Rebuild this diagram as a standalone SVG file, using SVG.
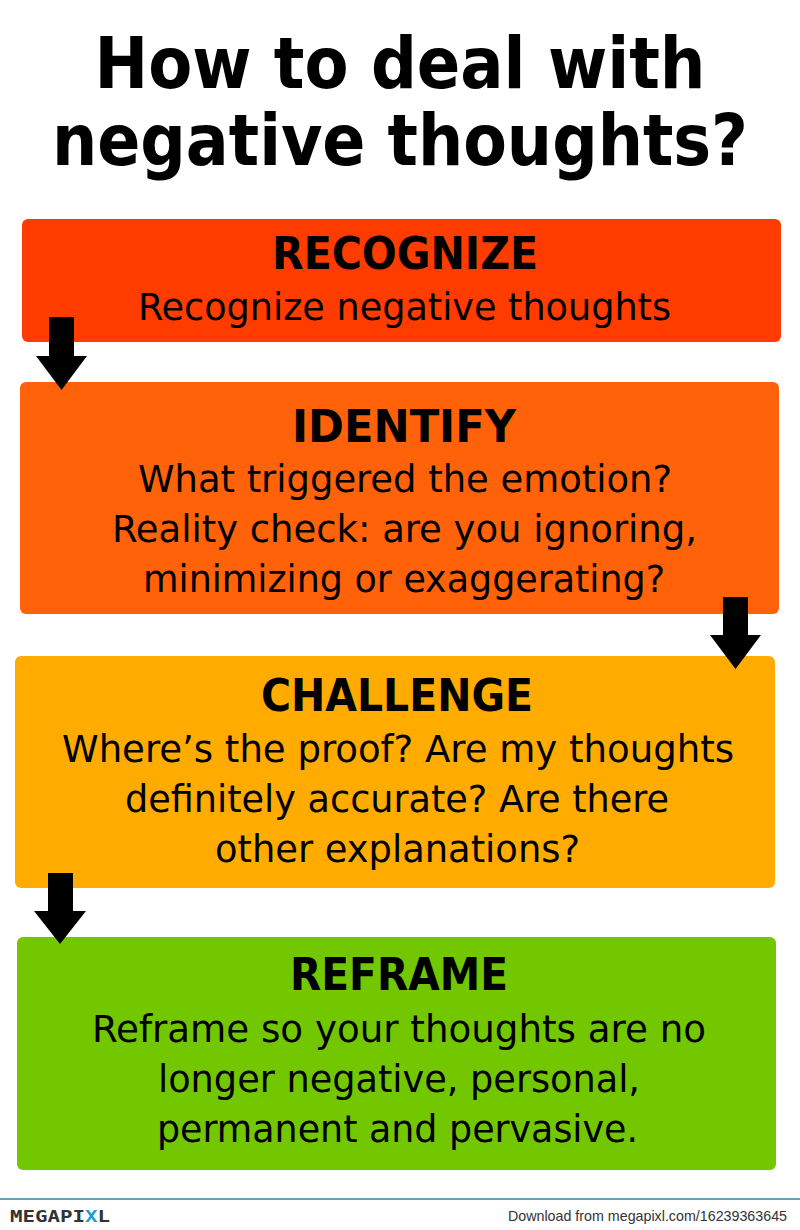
<svg xmlns="http://www.w3.org/2000/svg" width="800" height="1230" viewBox="0 0 800 1230">
<style>
.t{font-family:"DejaVu Sans Condensed","DejaVu Sans",sans-serif;fill:#000;text-anchor:middle}
.title{font-weight:bold;font-size:72px}
.h{font-weight:bold;font-size:44px}
.b{font-size:37px}
.arrow{fill:#000}
</style>
<rect width="800" height="1230" fill="#fff"/>
<g id="title">
<text class="t title" x="400" y="88" textLength="611" lengthAdjust="spacingAndGlyphs">How to deal with</text>
<text class="t title" x="400" y="165" textLength="696" lengthAdjust="spacingAndGlyphs">negative thoughts?</text>
</g>
<g id="recognize">
<rect x="22" y="219" width="759" height="123" rx="6" fill="#ff3c00"/>
<text class="t h" x="405" y="269" textLength="266" lengthAdjust="spacingAndGlyphs">RECOGNIZE</text>
<text class="t b" x="404.5" y="320" textLength="533" lengthAdjust="spacingAndGlyphs">Recognize negative thoughts</text>
</g>
<g id="identify">
<rect x="20" y="382" width="759" height="232" rx="6" fill="#ff6208"/>
<text class="t h" x="404" y="442" textLength="224" lengthAdjust="spacingAndGlyphs">IDENTIFY</text>
<text class="t b" x="405" y="492" textLength="534" lengthAdjust="spacingAndGlyphs">What triggered the emotion?</text>
<text class="t b" x="404.5" y="542" textLength="585" lengthAdjust="spacingAndGlyphs">Reality check: are you ignoring,</text>
<text class="t b" x="404" y="592" textLength="522" lengthAdjust="spacingAndGlyphs">minimizing or exaggerating?</text>
</g>
<g id="challenge">
<rect x="15" y="656" width="760" height="232" rx="6" fill="#ffab00"/>
<text class="t h" x="397" y="711" textLength="272" lengthAdjust="spacingAndGlyphs">CHALLENGE</text>
<text class="t b" x="398" y="762" textLength="672" lengthAdjust="spacingAndGlyphs">Where’s the proof? Are my thoughts</text>
<text class="t b" x="397" y="812" textLength="544" lengthAdjust="spacingAndGlyphs">definitely accurate? Are there</text>
<text class="t b" x="397.5" y="862" textLength="365" lengthAdjust="spacingAndGlyphs">other explanations?</text>
</g>
<g id="reframe">
<rect x="17" y="937" width="759" height="233" rx="6" fill="#72c700"/>
<text class="t h" x="399" y="990" textLength="218" lengthAdjust="spacingAndGlyphs">REFRAME</text>
<text class="t b" x="399" y="1042" textLength="614" lengthAdjust="spacingAndGlyphs">Reframe so your thoughts are no</text>
<text class="t b" x="399" y="1092" textLength="482" lengthAdjust="spacingAndGlyphs">longer negative, personal,</text>
<text class="t b" x="397.5" y="1142" textLength="481" lengthAdjust="spacingAndGlyphs">permanent and pervasive.</text>
</g>
<g id="connectors">
<polygon class="arrow" points="49,317 74,317 74,356 87,356 61.5,390 36,356 49,356"/>
<polygon class="arrow" points="723,597 748,597 748,635 761,635 735.5,669 710,635 723,635"/>
<polygon class="arrow" points="48,873 73,873 73,911 86,911 60,944 34,911 48,911"/>
</g>
<g id="footer">
<line x1="0" y1="1199" x2="800" y2="1199" stroke="#2f86a0" stroke-width="1.5"/>
<text x="10" y="1222" font-family="DejaVu Sans Mono,monospace" font-weight="bold" font-size="16" fill="#333" textLength="100" lengthAdjust="spacingAndGlyphs">MEGAPI<tspan fill="#1a9fd0">X</tspan>L</text>
<text x="787" y="1221" font-family="Liberation Sans,Arial,sans-serif" font-size="15" fill="#333" text-anchor="end" textLength="279" lengthAdjust="spacingAndGlyphs">Download from megapixl.com/16239363645</text>
</g>
</svg>
